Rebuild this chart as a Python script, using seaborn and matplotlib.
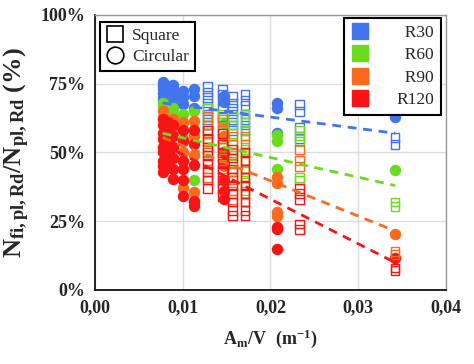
import matplotlib
matplotlib.use('Agg')
import matplotlib.pyplot as plt
from matplotlib.lines import Line2D
from matplotlib.ticker import FuncFormatter
import numpy as np
import pandas as pd
import seaborn as sns

# ratings and colours
ratings = ['R30', 'R60', 'R90', 'R120']
colors = ['#4274EE', '#6BDB1E', '#FA6A1E', '#F81414']

# circular sections (filled circles)
r30_circ_x = [0.0078]*6 + [0.0083]*3 + [0.0089]*5 + [0.0100]*3 + [0.0113]*3 + [0.0147]*2 + [0.0207]*3 + [0.0342]
r30_circ_y = [75.5, 74, 73, 71.5, 70, 69, 74, 72, 70, 74.5, 73, 71, 69, 67, 72.5, 70, 67.5,
              73, 70.5, 66, 70.5, 68.5, 68, 66, 57, 63]
r60_circ_x = [0.0078]*2 + [0.0089]*2 + [0.0100] + [0.0113]*2 + [0.0147] + [0.0207]*3 + [0.0342]
r60_circ_y = [68, 66.5, 66, 64, 64, 65, 40, 60.5, 56.5, 54, 44, 43.5]
r90_circ_x = [0.0078]*2 + [0.0083] + [0.0089]*2 + [0.0100]*4 + [0.0113]*5 + [0.0147]*2 + [0.0207]*4 + [0.0342]
r90_circ_y = [65, 63, 61, 62, 58, 61, 55, 50, 37, 61.5, 56, 49, 35.5, 32, 56, 45, 41, 39, 28.5, 27, 20.5]
r120_circ_x = [0.0078]*9 + [0.0083]*6 + [0.0089]*6 + [0.0100]*6 + [0.0113]*5 + [0.0147]*5 + [0.0207]*3 + [0.0342]
r120_circ_y = [62, 60, 57, 55, 52, 50, 47, 45, 43, 61, 58, 54, 51, 48, 45, 60, 56, 52, 48, 44, 40.5,
               58, 54, 47, 44, 40, 34, 58, 53, 45.5, 32.5, 30.5, 50, 46, 40, 36, 33, 23, 22, 15, 11.5]

# square sections (open squares)
r30_sq_x = [0.0128]*8 + [0.0145]*6 + [0.0157]*7 + [0.0171]*7 + [0.0233]*4 + [0.0342]*2
r30_sq_y = [74, 72, 70, 68, 66, 64, 62, 60, 73, 71, 69, 66, 63, 61, 70.5, 68, 66, 64, 62, 60, 58,
            71, 69, 67, 64, 62, 60, 58, 67.5, 65, 59, 55, 55.5, 53]
r60_sq_x = [0.0128]*6 + [0.0145]*6 + [0.0157]*8 + [0.0171]*9 + [0.0233]*5 + [0.0342]*2
r60_sq_y = [66, 63, 60, 57, 54, 51, 64, 61, 58, 55, 52, 49, 63, 60, 57, 53, 49, 46, 43, 40,
            64, 61, 58, 55, 51, 47, 43, 39, 36, 58, 56, 54, 41, 40, 32, 30.5]
r90_sq_x = [0.0128]*8 + [0.0145]*8 + [0.0157]*8 + [0.0171]*9 + [0.0233]*3 + [0.0342]*2
r90_sq_y = [63, 60, 57, 54, 50, 47, 44, 41, 62, 58, 55, 52, 48, 44, 40, 37, 56, 53, 50, 46, 43, 40, 36, 33,
            56, 53, 50, 47, 44, 41, 38, 35, 32, 51, 47, 45, 14, 13]
r120_sq_x = [0.0128]*8 + [0.0145]*8 + [0.0157]*9 + [0.0171]*9 + [0.0233]*5 + [0.0342]*2
r120_sq_y = [58, 55, 52, 49, 46, 43, 40, 37, 57, 53, 50, 46, 43, 40, 37, 34, 51, 48, 44, 41, 38, 35, 32, 29, 27,
             50, 47, 44, 41, 38, 35, 32, 29, 27, 37, 35, 33, 24, 22, 8, 7]

# trend lines (start / end)
trend_x = [0.0077, 0.0342]
trend_r30 = [68, 57]
trend_r60 = [57, 38]
trend_r90 = [55.5, 21.5]
trend_r120 = [53, 10]

circ = [(r30_circ_x, r30_circ_y), (r60_circ_x, r60_circ_y), (r90_circ_x, r90_circ_y), (r120_circ_x, r120_circ_y)]
sq = [(r30_sq_x, r30_sq_y), (r60_sq_x, r60_sq_y), (r90_sq_x, r90_sq_y), (r120_sq_x, r120_sq_y)]
trends = [trend_r30, trend_r60, trend_r90, trend_r120]

sns.set_style('white')
plt.rcParams['font.family'] = ['Liberation Serif', 'DejaVu Serif']
plt.rcParams['mathtext.fontset'] = 'custom'
plt.rcParams['mathtext.rm'] = 'Liberation Serif:bold'
plt.rcParams['mathtext.it'] = 'Liberation Serif:bold'
plt.rcParams['mathtext.bf'] = 'Liberation Serif:bold'

fig = plt.figure(figsize=(4.74, 3.64), dpi=100)
ax = fig.add_axes([0.2004, 0.2033, 0.7405, 0.7555])

for i, r in enumerate(ratings):
    d = pd.DataFrame({'x': circ[i][0], 'y': circ[i][1]})
    sns.scatterplot(data=d, x='x', y='y', ax=ax, marker='o', s=68, color=colors[i],
                    edgecolor=colors[i], linewidth=0, zorder=3)
for i, r in enumerate(ratings):
    d = pd.DataFrame({'x': sq[i][0], 'y': sq[i][1]})
    sns.scatterplot(data=d, x='x', y='y', ax=ax, marker='s', s=40, color=colors[i],
                    facecolors='none', edgecolor=colors[i], linewidth=1.0, zorder=3)
for i, r in enumerate(ratings):
    d = pd.DataFrame({'x': trend_x, 'y': trends[i]})
    sns.lineplot(data=d, x='x', y='y', ax=ax, color=colors[i], lw=2.0,
                 dashes=False, zorder=4)
    ax.lines[-1].set_dashes([3.2, 2.4])

ax.set_xlim(0, 0.04)
ax.set_ylim(0, 100)
ax.set_xticks([0, 0.01, 0.02, 0.03, 0.04])
ax.set_yticks([0, 25, 50, 75, 100])
ax.xaxis.set_major_formatter(FuncFormatter(lambda v, p: ('%.2f' % v).replace('.', ',')))
ax.yaxis.set_major_formatter(FuncFormatter(lambda v, p: '%d%%' % v))
ax.grid(True, color='#dddddd', lw=1.0)
ax.set_axisbelow(True)
for s in ['left', 'bottom']:
    ax.spines[s].set_color('black')
    ax.spines[s].set_linewidth(1.2)
for s in ['top', 'right']:
    ax.spines[s].set_color('#999999')
    ax.spines[s].set_linewidth(1.0)
ax.tick_params(axis='both', direction='out', length=4, width=1, color='black',
               labelsize=13, pad=3)
for t in ax.get_xticklabels() + ax.get_yticklabels():
    t.set_fontweight('bold')

ax.set_xlabel(r'$\mathregular{A_m/V\ \ (m^{-1})}$', fontsize=13, fontweight='bold', labelpad=8)
ax.set_ylabel(r'$\mathregular{N_{fi,pl,Rd}/N_{pl,Rd}}$ (%)', fontsize=19, fontweight='bold', labelpad=6)

# shape legend
h1 = [Line2D([], [], ls='none', marker='s', ms=11, mfc='none', mec='black', mew=1.2),
      Line2D([], [], ls='none', marker='o', ms=12, mfc='none', mec='black', mew=1.2)]
leg1 = ax.legend(h1, ['Square', 'Circular'], loc='upper left', bbox_to_anchor=(0.014, 0.975),
                 borderaxespad=0, fancybox=False, framealpha=1, edgecolor='black',
                 fontsize=12.5, handlelength=1.0, handletextpad=0.5, borderpad=0.35,
                 labelspacing=0.25)
leg1.get_frame().set_linewidth(1.5)
ax.add_artist(leg1)

# rating legend
h2 = [Line2D([], [], ls='none', marker='s', ms=11, mfc=c, mec=c) for c in colors]
labels2 = ['\u2007' + r if len(r) == 3 else r for r in ratings]
leg2 = ax.legend(h2, labels2, loc='upper right', bbox_to_anchor=(0.986, 0.989),
                 borderaxespad=0, fancybox=False, framealpha=1, edgecolor='black',
                 fontsize=12.5, handlelength=1.0, handletextpad=1.6, borderpad=0.4,
                 labelspacing=0.35)
leg2.get_frame().set_linewidth(1.5)

fig.savefig('out.png', dpi=100)
